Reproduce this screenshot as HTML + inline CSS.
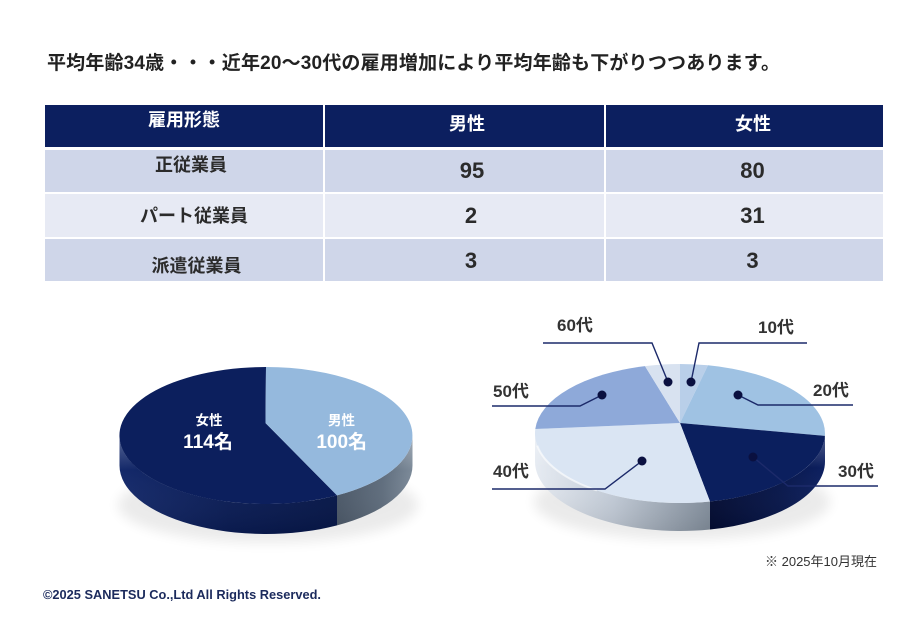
<!DOCTYPE html>
<html><head><meta charset="utf-8">
<style>
html,body{margin:0;padding:0;background:#fff;}
svg{display:block;}
text{font-family:"Liberation Sans","Noto Sans CJK JP",sans-serif;}
</style></head>
<body>
<svg width="921" height="617" viewBox="0 0 921 617" xmlns="http://www.w3.org/2000/svg">
<defs>
  <filter id="blur" x="-20%" y="-50%" width="140%" height="200%"><feGaussianBlur stdDeviation="6"/></filter>
  <linearGradient id="fside" x1="0" y1="0" x2="1" y2="0">
    <stop offset="0" stop-color="#14296a"/><stop offset="0.5" stop-color="#0a1c55"/><stop offset="1" stop-color="#061648"/>
  </linearGradient>
  <linearGradient id="mside" x1="0" y1="0" x2="1" y2="0">
    <stop offset="0" stop-color="#4b5868"/><stop offset="0.6" stop-color="#5f6d7d"/><stop offset="1" stop-color="#7c8a99"/>
  </linearGradient>
  <linearGradient id="s40" x1="0" y1="0" x2="1" y2="0">
    <stop offset="0" stop-color="#e6ebf2"/><stop offset="0.45" stop-color="#c3ccd8"/><stop offset="1" stop-color="#84909e"/>
  </linearGradient>
  <linearGradient id="s30" x1="0" y1="0" x2="1" y2="0">
    <stop offset="0" stop-color="#030c33"/><stop offset="0.6" stop-color="#07164a"/><stop offset="1" stop-color="#0d2060"/>
  </linearGradient>
  <linearGradient id="hl" x1="0" y1="0" x2="0" y2="1">
    <stop offset="0" stop-color="#fff" stop-opacity="0.3"/><stop offset="0.35" stop-color="#fff" stop-opacity="0"/><stop offset="1" stop-color="#000" stop-opacity="0.1"/>
  </linearGradient>
</defs>

<!-- Title -->
<text x="47" y="69" font-size="19" font-weight="bold" fill="#222" textLength="733" lengthAdjust="spacing">平均年齢34歳・・・近年20〜30代の雇用増加により平均年齢も下がりつつあります。</text>

<!-- Table -->
<rect x="45" y="105" width="278" height="42" fill="#0c1f5f"/>
<rect x="325" y="105" width="279" height="42" fill="#0c1f5f"/>
<rect x="606" y="105" width="277" height="42" fill="#0c1f5f"/>

<rect x="45" y="150" width="278" height="42" fill="#cfd6e9"/>
<rect x="325" y="150" width="279" height="42" fill="#cfd6e9"/>
<rect x="606" y="150" width="277" height="42" fill="#cfd6e9"/>

<rect x="45" y="194" width="278" height="43" fill="#e7eaf4"/>
<rect x="325" y="194" width="279" height="43" fill="#e7eaf4"/>
<rect x="606" y="194" width="277" height="43" fill="#e7eaf4"/>

<rect x="45" y="239" width="278" height="42" fill="#cfd6e9"/>
<rect x="325" y="239" width="279" height="42" fill="#cfd6e9"/>
<rect x="606" y="239" width="277" height="42" fill="#cfd6e9"/>

<g font-weight="bold" text-anchor="middle">
  <text x="184" y="126" font-size="18" fill="#fff">雇用形態</text>
  <text x="467" y="130" font-size="18" fill="#fff">男性</text>
  <text x="753" y="130" font-size="18" fill="#fff">女性</text>

  <text x="191" y="171" font-size="18" fill="#2b2b2b">正従業員</text>
  <text x="194" y="222" font-size="18" fill="#2b2b2b">パート従業員</text>
  <text x="196.5" y="272" font-size="18" fill="#2b2b2b">派遣従業員</text>

  <text x="472" y="178" font-size="22" fill="#2b2b2b">95</text>
  <text x="752.5" y="178" font-size="22" fill="#2b2b2b">80</text>
  <text x="471" y="223" font-size="22" fill="#2b2b2b">2</text>
  <text x="752.5" y="223" font-size="22" fill="#2b2b2b">31</text>
  <text x="471" y="268" font-size="22" fill="#2b2b2b">3</text>
  <text x="752.5" y="268" font-size="22" fill="#2b2b2b">3</text>
</g>

<!-- Left pie shadow -->
<ellipse cx="268" cy="505" rx="150" ry="38" fill="#000" opacity="0.08" filter="url(#blur)"/>
<!-- Left pie sides -->
<path d="M119.5,435.5 A146.5,68.5 0 0 0 337,495.4 L337,525.4 A146.5,68.5 0 0 1 119.5,465.5 Z" fill="url(#fside)"/>
<path d="M337,495.4 A146.5,68.5 0 0 0 412.5,435.5 L412.5,465.5 A146.5,68.5 0 0 1 337,525.4 Z" fill="url(#mside)"/>
<path d="M119.5,435.5 A146.5,68.5 0 0 0 412.5,435.5 L412.5,465.5 A146.5,68.5 0 0 1 119.5,465.5 Z" fill="url(#hl)"/>
<!-- Left pie top -->
<path d="M265.5,423 L337,495.4 A146.5,68.5 0 1 1 266,367 Z" fill="#0c1f5d"/>
<path d="M265.5,423 L266,367 A146.5,68.5 0 0 1 337,495.4 Z" fill="#95b9dd"/>

<g font-weight="bold" fill="#fff" text-anchor="middle">
  <text x="209" y="425" font-size="13.5">女性</text>
  <text x="208" y="448" font-size="19">114名</text>
  <text x="341.5" y="425" font-size="13.5">男性</text>
  <text x="341.7" y="448" font-size="19">100名</text>
</g>

<!-- Right pie shadow -->
<ellipse cx="682" cy="502" rx="148" ry="38" fill="#000" opacity="0.08" filter="url(#blur)"/>
<!-- Right pie sides -->
<path d="M535,433.5 A145,69.5 0 0 0 710,501.5 L710,529.5 A145,69.5 0 0 1 535,461.5 Z" fill="url(#s40)"/>
<path d="M710,501.5 A145,69.5 0 0 0 825,433.5 L825,461.5 A145,69.5 0 0 1 710,529.5 Z" fill="url(#s30)"/>
<path d="M535,433.5 A145,69.5 0 0 0 825,433.5 L825,461.5 A145,69.5 0 0 1 535,461.5 Z" fill="url(#hl)"/>
<!-- Right pie top -->
<path d="M680,423 L680,364 A145,69.5 0 0 1 708,365.3 Z" fill="#b9cfe9"/>
<path d="M680,423 L708,365.3 A145,69.5 0 0 1 824.9,435.9 Z" fill="#9fc2e3"/>
<path d="M680,423 L824.9,435.9 A145,69.5 0 0 1 710,501.5 Z" fill="#0b1f5e"/>
<path d="M680,423 L710,501.5 A145,69.5 0 0 1 535.3,429 Z" fill="#dae5f3"/>
<path d="M680,423 L535.3,429 A145,69.5 0 0 1 645,366.1 Z" fill="#8ea9d9"/>
<path d="M680,423 L645,366.1 A145,69.5 0 0 1 680,364 Z" fill="#d8e2f0"/>
<path d="M537.2,445.6 A145,69.5 0 0 0 596.8,490.4" fill="none" stroke="#fff" stroke-width="2" opacity="0.6"/>

<!-- Leader lines -->
<g stroke="#1c2a6a" stroke-width="1.4" fill="none">
  <polyline points="543,343 652,343 668,382"/>
  <polyline points="807,343 699,343 691,382"/>
  <polyline points="738,395 758,405 853,405"/>
  <polyline points="753,457 788,486 878,486"/>
  <polyline points="642,461 605,489 492,489"/>
  <polyline points="602,395 580,406 492,406"/>
</g>
<g fill="#0a1040">
  <circle cx="668" cy="382" r="4.5"/>
  <circle cx="691" cy="382" r="4.5"/>
  <circle cx="738" cy="395" r="4.5"/>
  <circle cx="753" cy="457" r="4.5"/>
  <circle cx="642" cy="461" r="4.5"/>
  <circle cx="602" cy="395" r="4.5"/>
</g>
<g font-weight="bold" font-size="17" fill="#333">
  <text x="557" y="331">60代</text>
  <text x="758" y="333">10代</text>
  <text x="813" y="396">20代</text>
  <text x="838" y="477">30代</text>
  <text x="493" y="477">40代</text>
  <text x="493" y="397">50代</text>
</g>

<!-- Footer -->
<text x="765" y="566" font-size="13" fill="#333" textLength="112" lengthAdjust="spacingAndGlyphs">※ 2025年10月現在</text>
<text x="43" y="599" font-size="13" font-weight="bold" fill="#1b2a5c" textLength="278" lengthAdjust="spacingAndGlyphs">©2025 SANETSU Co.,Ltd All Rights Reserved.</text>
</svg>
</body></html>
